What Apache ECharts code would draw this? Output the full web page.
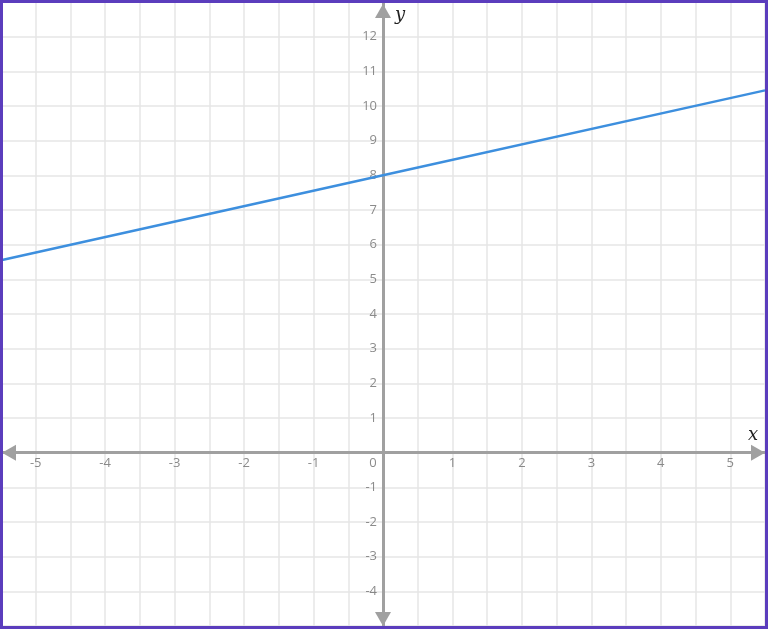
<!DOCTYPE html>
<html>
<head>
<meta charset="utf-8">
<script src="https://cdn.jsdelivr.net/npm/echarts@6/dist/echarts.min.js"></script>
<style>
  html, body { margin: 0; padding: 0; background: #fff; }
  #chart { width: 768px; height: 629px; }
</style>
</head>
<body>
<div id="chart"></div>
<script>
// line: y crosses 8 at x = 0, about 10.45 at the right edge
var lineX = [-5.5, 0, 5.5];
var lineY = [5.55, 8, 10.45];

var xRange = [-5.5, 5.5];
var yRange = [-5, 13];
var xLabels = [-5, -4, -3, -2, -1, 0, 1, 2, 3, 4, 5];
var yLabels = [-4, -3, -2, -1, 1, 2, 3, 4, 5, 6, 7, 8, 9, 10, 11, 12];

var axisGray = '#a0a0a0';
var gridGray = '#e6e6e6';
var labelGray = '#6e6e6e';

var labelFont = { color: labelGray, fontSize: 13, fontFamily: 'Open Sans' };

var chart = echarts.init(document.getElementById('chart'));

// tick labels sit next to the axes that cross at zero
var xLabelData = xLabels.map(function (v) {
  var item = { value: [v, 0] };
  if (v === 0) item.label = { offset: [-10, 0] };
  return item;
});
var yLabelData = yLabels.map(function (v) { return [0, v]; });

var option = {
  animation: false,
  grid: { left: 1, right: 3, top: 2, bottom: 3, containLabel: false, outerBoundsMode: 'none' },
  xAxis: {
    type: 'value',
    min: xRange[0],
    max: xRange[1],
    interval: 0.5,
    axisLine: {
      onZero: true,
      symbol: ['triangle', 'triangle'],
      symbolSize: [16, 14],
      symbolOffset: [8, -7],
      lineStyle: { color: axisGray, width: 3 }
    },
    axisTick: { show: false },
    axisLabel: { show: false },
    splitLine: { lineStyle: { color: gridGray, width: 1.5 } },
    name: 'x',
    nameLocation: 'end',
    nameGap: -12,
    nameTextStyle: {
      fontFamily: 'DejaVu Serif',
      fontStyle: 'italic',
      fontSize: 18,
      color: '#222',
      align: 'center',
      verticalAlign: 'bottom',
      padding: [0, 0, 8, 0]
    }
  },
  yAxis: {
    type: 'value',
    min: yRange[0],
    max: yRange[1],
    interval: 1,
    axisLine: {
      onZero: true,
      symbol: ['triangle', 'triangle'],
      symbolSize: [16, 14],
      symbolOffset: [7, -9],
      lineStyle: { color: axisGray, width: 3 }
    },
    axisTick: { show: false },
    axisLabel: { show: false },
    splitLine: { lineStyle: { color: gridGray, width: 1.5 } },
    name: 'y',
    nameLocation: 'end',
    nameGap: -22,
    nameTextStyle: {
      fontFamily: 'DejaVu Serif',
      fontStyle: 'italic',
      fontSize: 18,
      color: '#222',
      align: 'left',
      verticalAlign: 'bottom',
      padding: [0, 0, 0, 12]
    }
  },
  graphic: [{
    type: 'rect',
    z: 100,
    shape: { x: 1.5, y: 1.5, width: 765, height: 626 },
    style: { fill: 'none', stroke: '#5b3dbd', lineWidth: 3 }
  }],
  series: [{
    type: 'line',
    data: lineX.map(function (x, i) { return [x, lineY[i]]; }),
    showSymbol: false,
    clip: false,
    z: 5,
    lineStyle: { color: '#3d8fde', width: 2.5 }
  }, {
    type: 'scatter',
    data: xLabelData,
    symbolSize: 0,
    silent: true,
    label: Object.assign({
      show: true,
      position: 'bottom',
      distance: 4,
      formatter: function (p) { return String(p.value[0]); }
    }, labelFont)
  }, {
    type: 'scatter',
    data: yLabelData,
    symbolSize: 0,
    silent: true,
    label: Object.assign({
      show: true,
      position: 'left',
      distance: 6,
      formatter: function (p) { return String(p.value[1]); }
    }, labelFont)
  }]
};

chart.setOption(option);
</script>
</body>
</html>
